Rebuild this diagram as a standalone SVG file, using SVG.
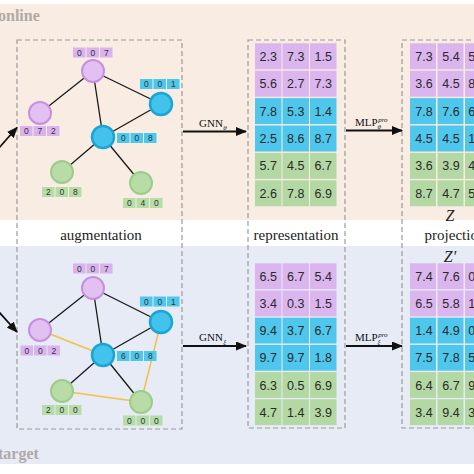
<svg xmlns="http://www.w3.org/2000/svg" width="474" height="474" viewBox="0 0 474 474">
<defs>
<marker id="ah" markerUnits="userSpaceOnUse" markerWidth="11" markerHeight="9" refX="10" refY="4.5" orient="auto">
<path d="M0,0 L11,4.5 L0,9 z" fill="#111"/>
</marker>
<style>
.box{fill:none;stroke:#9a9a9a;stroke-width:1.2;stroke-dasharray:5,3}
.edge{stroke:#1a1a1a;stroke-width:1.3;fill:none}
.yedge{stroke:#f2c244;stroke-width:1.6;fill:none}
.arrow{stroke:#111;stroke-width:1.8;fill:none}
.np{fill:#e2c0f2;stroke:#c690e0;stroke-width:2}
.nb{fill:#43c3ec;stroke:#17a6d6;stroke-width:2.5}
.ng{fill:#b7dca6;stroke:#9ecb8b;stroke-width:2}
.lp{fill:#d9b2ee}
.lb{fill:#4ec7ec}
.lg{fill:#b6dca8}
.ld{font-family:"Liberation Sans",Arial,sans-serif;font-size:8.5px;fill:#333;text-anchor:middle}
.cp{fill:#dab5ee}
.cb{fill:#4fc7ec}
.cg{fill:#b3d8a3}
.cv{font-family:"Liberation Sans",Arial,sans-serif;font-size:12.5px;fill:#2a2a2a;text-anchor:middle}
.cap{font-family:"Liberation Serif","Times New Roman",serif;font-size:15px;fill:#222;text-anchor:middle}
.sec{font-family:"Liberation Serif","Times New Roman",serif;font-size:16px;font-weight:bold;fill:#b0aaa6}
.op{font-family:"Liberation Serif","Times New Roman",serif;font-size:11px;fill:#111}
.sub{font-family:"Liberation Serif","Times New Roman",serif;font-size:7px;fill:#111;font-style:italic}
.zl{font-family:"Liberation Serif","Times New Roman",serif;font-size:16px;fill:#222;font-style:italic;text-anchor:middle}
</style>
</defs>
<rect x="0" y="0" width="474" height="474" fill="#ffffff"/>
<rect x="0" y="4" width="474" height="216" fill="#f9ece2"/>
<rect x="0" y="246" width="474" height="218" fill="#e6ebf6"/>
<text class="sec" x="-2" y="21">online</text>
<text class="sec" x="-2" y="459">target</text>

<g id="boxes">
<rect class="box" x="17" y="40" width="165" height="389"/>
<rect class="box" x="248" y="40" width="97" height="388"/>
<rect class="box" x="402" y="40" width="100" height="388"/>
</g>
<text class="cap" x="101" y="240">augmentation</text>
<text class="cap" x="296" y="240">representation</text>
<text class="cap" x="455" y="240">projection</text>

<g id="connectors">
<line class="edge" x1="93" y1="71" x2="40" y2="113"/>
<line class="edge" x1="93" y1="71" x2="161" y2="104"/>
<line class="edge" x1="93" y1="71" x2="103" y2="137"/>
<line class="edge" x1="103" y1="137" x2="161" y2="104"/>
<line class="edge" x1="103" y1="137" x2="62" y2="172"/>
<line class="edge" x1="103" y1="137" x2="141" y2="183"/>
<line class="edge" x1="93" y1="288" x2="40" y2="330"/>
<line class="edge" x1="93" y1="288" x2="161" y2="322"/>
<line class="edge" x1="93" y1="288" x2="103" y2="355"/>
<line class="edge" x1="103" y1="355" x2="161" y2="322"/>
<line class="edge" x1="103" y1="355" x2="62" y2="391"/>
<line class="edge" x1="103" y1="355" x2="141" y2="402"/>
<line class="yedge" x1="40" y1="330" x2="103" y2="355"/>
<line class="yedge" x1="161" y1="322" x2="141" y2="402"/>
<line class="yedge" x1="62" y1="391" x2="141" y2="402"/>
<line class="arrow" x1="-2" y1="149" x2="17" y2="127.5" marker-end="url(#ah)"/>
<line class="arrow" x1="-2" y1="311" x2="17" y2="332" marker-end="url(#ah)"/>
<line class="arrow" x1="183" y1="131.5" x2="246" y2="131.5" marker-end="url(#ah)"/>
<line class="arrow" x1="183" y1="346" x2="246" y2="346" marker-end="url(#ah)"/>
<line class="arrow" x1="346" y1="130.5" x2="402" y2="130.5" marker-end="url(#ah)"/>
<line class="arrow" x1="346" y1="346" x2="402" y2="346" marker-end="url(#ah)"/>
</g>
<text class="op" x="199" y="127">GNN<tspan class="sub" dx="0.5" dy="2.5">θ</tspan></text>
<text class="op" x="199" y="341">GNN<tspan class="sub" dx="0.5" dy="2.5">ξ</tspan></text>
<text class="op" x="355" y="126">MLP<tspan class="sub" font-style="normal" dx="0.5" dy="-4">pro</tspan><tspan class="sub" dx="-10" dy="7">θ</tspan></text>
<text class="op" x="355" y="341">MLP<tspan class="sub" font-style="normal" dx="0.5" dy="-4">pro</tspan><tspan class="sub" dx="-10" dy="7">ξ</tspan></text>

<g id="online-graph">
<g id="n-top-p"><circle class="np" cx="93" cy="71" r="11"/>
<rect class="lp" x="73" y="47.5" width="12.5" height="10"/><rect class="lp" x="86.5" y="47.5" width="12.5" height="10"/><rect class="lp" x="100" y="47.5" width="12.5" height="10"/>
<text class="ld" x="79.25" y="55.8">0</text><text class="ld" x="92.75" y="55.8">0</text><text class="ld" x="106.25" y="55.8">7</text></g>
<g id="n-top-pl"><circle class="np" cx="40" cy="113" r="11"/>
<rect class="lp" x="20" y="126" width="12.5" height="10"/><rect class="lp" x="33.5" y="126" width="12.5" height="10"/><rect class="lp" x="47" y="126" width="12.5" height="10"/>
<text class="ld" x="26.25" y="134.3">0</text><text class="ld" x="39.75" y="134.3">7</text><text class="ld" x="53.25" y="134.3">2</text></g>
<g id="n-top-br"><circle class="nb" cx="161" cy="104" r="11"/>
<rect class="lb" x="140" y="79" width="12.5" height="10"/><rect class="lb" x="153.5" y="79" width="12.5" height="10"/><rect class="lb" x="167" y="79" width="12.5" height="10"/>
<text class="ld" x="146.25" y="87.3">0</text><text class="ld" x="159.75" y="87.3">0</text><text class="ld" x="173.25" y="87.3">1</text></g>
<g id="n-top-bc"><circle class="nb" cx="103" cy="137" r="11"/>
<rect class="lb" x="117" y="133" width="12.5" height="10"/><rect class="lb" x="130.5" y="133" width="12.5" height="10"/><rect class="lb" x="144" y="133" width="12.5" height="10"/>
<text class="ld" x="123.25" y="141.3">0</text><text class="ld" x="136.75" y="141.3">0</text><text class="ld" x="150.25" y="141.3">8</text></g>
<g id="n-top-gl"><circle class="ng" cx="62" cy="172" r="11"/>
<rect class="lg" x="42" y="187" width="12.5" height="10"/><rect class="lg" x="55.5" y="187" width="12.5" height="10"/><rect class="lg" x="69" y="187" width="12.5" height="10"/>
<text class="ld" x="48.25" y="195.3">2</text><text class="ld" x="61.75" y="195.3">0</text><text class="ld" x="75.25" y="195.3">8</text></g>
<g id="n-top-gr"><circle class="ng" cx="141" cy="183" r="11"/>
<rect class="lg" x="123" y="198" width="12.5" height="10"/><rect class="lg" x="136.5" y="198" width="12.5" height="10"/><rect class="lg" x="150" y="198" width="12.5" height="10"/>
<text class="ld" x="129.25" y="206.3">0</text><text class="ld" x="142.75" y="206.3">4</text><text class="ld" x="156.25" y="206.3">0</text></g>
</g>

<g id="target-graph">
<g id="n-bot-p"><circle class="np" cx="93" cy="288" r="11"/>
<rect class="lp" x="73" y="263.5" width="12.5" height="10"/><rect class="lp" x="86.5" y="263.5" width="12.5" height="10"/><rect class="lp" x="100" y="263.5" width="12.5" height="10"/>
<text class="ld" x="79.25" y="271.8">0</text><text class="ld" x="92.75" y="271.8">0</text><text class="ld" x="106.25" y="271.8">7</text></g>
<g id="n-bot-pl"><circle class="np" cx="40" cy="330" r="11"/>
<rect class="lp" x="20.5" y="345.5" width="12.5" height="10"/><rect class="lp" x="34" y="345.5" width="12.5" height="10"/><rect class="lp" x="47.5" y="345.5" width="12.5" height="10"/>
<text class="ld" x="26.75" y="353.8">0</text><text class="ld" x="40.25" y="353.8">0</text><text class="ld" x="53.75" y="353.8">2</text></g>
<g id="n-bot-br"><circle class="nb" cx="161" cy="322" r="11"/>
<rect class="lb" x="140" y="296.5" width="12.5" height="10"/><rect class="lb" x="153.5" y="296.5" width="12.5" height="10"/><rect class="lb" x="167" y="296.5" width="12.5" height="10"/>
<text class="ld" x="146.25" y="304.8">0</text><text class="ld" x="159.75" y="304.8">0</text><text class="ld" x="173.25" y="304.8">1</text></g>
<g id="n-bot-bc"><circle class="nb" cx="103" cy="355" r="11"/>
<rect class="lb" x="117" y="351" width="12.5" height="10"/><rect class="lb" x="130.5" y="351" width="12.5" height="10"/><rect class="lb" x="144" y="351" width="12.5" height="10"/>
<text class="ld" x="123.25" y="359.3">6</text><text class="ld" x="136.75" y="359.3">0</text><text class="ld" x="150.25" y="359.3">8</text></g>
<g id="n-bot-gl"><circle class="ng" cx="62" cy="391" r="11"/>
<rect class="lg" x="42" y="405" width="12.5" height="10"/><rect class="lg" x="55.5" y="405" width="12.5" height="10"/><rect class="lg" x="69" y="405" width="12.5" height="10"/>
<text class="ld" x="48.25" y="413.3">2</text><text class="ld" x="61.75" y="413.3">0</text><text class="ld" x="75.25" y="413.3">0</text></g>
<g id="n-bot-gr"><circle class="ng" cx="141" cy="402" r="11"/>
<rect class="lg" x="123" y="415.5" width="12.5" height="10"/><rect class="lg" x="136.5" y="415.5" width="12.5" height="10"/><rect class="lg" x="150" y="415.5" width="12.5" height="10"/>
<text class="ld" x="129.25" y="423.8">0</text><text class="ld" x="142.75" y="423.8">0</text><text class="ld" x="156.25" y="423.8">0</text></g>
</g>

<g id="rep-online">
<rect class="cp" x="255" y="43.3" width="26.5" height="26"/><rect class="cp" x="282.5" y="43.3" width="26.5" height="26"/><rect class="cp" x="310" y="43.3" width="26.5" height="26"/>
<rect class="cp" x="255" y="70.7" width="26.5" height="26"/><rect class="cp" x="282.5" y="70.7" width="26.5" height="26"/><rect class="cp" x="310" y="70.7" width="26.5" height="26"/>
<rect class="cb" x="255" y="98.1" width="26.5" height="26"/><rect class="cb" x="282.5" y="98.1" width="26.5" height="26"/><rect class="cb" x="310" y="98.1" width="26.5" height="26"/>
<rect class="cb" x="255" y="125.5" width="26.5" height="26"/><rect class="cb" x="282.5" y="125.5" width="26.5" height="26"/><rect class="cb" x="310" y="125.5" width="26.5" height="26"/>
<rect class="cg" x="255" y="152.9" width="26.5" height="26"/><rect class="cg" x="282.5" y="152.9" width="26.5" height="26"/><rect class="cg" x="310" y="152.9" width="26.5" height="26"/>
<rect class="cg" x="255" y="180.3" width="26.5" height="26"/><rect class="cg" x="282.5" y="180.3" width="26.5" height="26"/><rect class="cg" x="310" y="180.3" width="26.5" height="26"/>
<text class="cv" x="268.25" y="60.8">2.3</text><text class="cv" x="295.75" y="60.8">7.3</text><text class="cv" x="323.25" y="60.8">1.5</text>
<text class="cv" x="268.25" y="88.2">5.6</text><text class="cv" x="295.75" y="88.2">2.7</text><text class="cv" x="323.25" y="88.2">7.3</text>
<text class="cv" x="268.25" y="115.6">7.8</text><text class="cv" x="295.75" y="115.6">5.3</text><text class="cv" x="323.25" y="115.6">1.4</text>
<text class="cv" x="268.25" y="143">2.5</text><text class="cv" x="295.75" y="143">8.6</text><text class="cv" x="323.25" y="143">8.7</text>
<text class="cv" x="268.25" y="170.4">5.7</text><text class="cv" x="295.75" y="170.4">4.5</text><text class="cv" x="323.25" y="170.4">6.7</text>
<text class="cv" x="268.25" y="197.8">2.6</text><text class="cv" x="295.75" y="197.8">7.8</text><text class="cv" x="323.25" y="197.8">6.9</text>
</g>

<g id="rep-target">
<rect class="cp" x="255" y="263.3" width="26.5" height="25.8"/><rect class="cp" x="282.5" y="263.3" width="26.5" height="25.8"/><rect class="cp" x="310" y="263.3" width="26.5" height="25.8"/>
<rect class="cp" x="255" y="290.5" width="26.5" height="25.8"/><rect class="cp" x="282.5" y="290.5" width="26.5" height="25.8"/><rect class="cp" x="310" y="290.5" width="26.5" height="25.8"/>
<rect class="cb" x="255" y="317.7" width="26.5" height="25.8"/><rect class="cb" x="282.5" y="317.7" width="26.5" height="25.8"/><rect class="cb" x="310" y="317.7" width="26.5" height="25.8"/>
<rect class="cb" x="255" y="344.9" width="26.5" height="25.8"/><rect class="cb" x="282.5" y="344.9" width="26.5" height="25.8"/><rect class="cb" x="310" y="344.9" width="26.5" height="25.8"/>
<rect class="cg" x="255" y="372.1" width="26.5" height="25.8"/><rect class="cg" x="282.5" y="372.1" width="26.5" height="25.8"/><rect class="cg" x="310" y="372.1" width="26.5" height="25.8"/>
<rect class="cg" x="255" y="399.3" width="26.5" height="25.8"/><rect class="cg" x="282.5" y="399.3" width="26.5" height="25.8"/><rect class="cg" x="310" y="399.3" width="26.5" height="25.8"/>
<text class="cv" x="268.25" y="280.7">6.5</text><text class="cv" x="295.75" y="280.7">6.7</text><text class="cv" x="323.25" y="280.7">5.4</text>
<text class="cv" x="268.25" y="307.9">3.4</text><text class="cv" x="295.75" y="307.9">0.3</text><text class="cv" x="323.25" y="307.9">1.5</text>
<text class="cv" x="268.25" y="335.1">9.4</text><text class="cv" x="295.75" y="335.1">3.7</text><text class="cv" x="323.25" y="335.1">6.7</text>
<text class="cv" x="268.25" y="362.3">9.7</text><text class="cv" x="295.75" y="362.3">9.7</text><text class="cv" x="323.25" y="362.3">1.8</text>
<text class="cv" x="268.25" y="389.5">6.3</text><text class="cv" x="295.75" y="389.5">0.5</text><text class="cv" x="323.25" y="389.5">6.9</text>
<text class="cv" x="268.25" y="416.7">4.7</text><text class="cv" x="295.75" y="416.7">1.4</text><text class="cv" x="323.25" y="416.7">3.9</text>
</g>

<g id="proj-online">
<rect class="cp" x="410" y="43.3" width="26" height="26"/><rect class="cp" x="437.5" y="43.3" width="26" height="26"/><rect class="cp" x="465" y="43.3" width="26" height="26"/>
<rect class="cp" x="410" y="70.7" width="26" height="26"/><rect class="cp" x="437.5" y="70.7" width="26" height="26"/><rect class="cp" x="465" y="70.7" width="26" height="26"/>
<rect class="cb" x="410" y="98.1" width="26" height="26"/><rect class="cb" x="437.5" y="98.1" width="26" height="26"/><rect class="cb" x="465" y="98.1" width="26" height="26"/>
<rect class="cb" x="410" y="125.5" width="26" height="26"/><rect class="cb" x="437.5" y="125.5" width="26" height="26"/><rect class="cb" x="465" y="125.5" width="26" height="26"/>
<rect class="cg" x="410" y="152.9" width="26" height="26"/><rect class="cg" x="437.5" y="152.9" width="26" height="26"/><rect class="cg" x="465" y="152.9" width="26" height="26"/>
<rect class="cg" x="410" y="180.3" width="26" height="26"/><rect class="cg" x="437.5" y="180.3" width="26" height="26"/><rect class="cg" x="465" y="180.3" width="26" height="26"/>
<text class="cv" x="424" y="60.8">7.3</text><text class="cv" x="451" y="60.8">5.4</text><text class="cv" x="477" y="60.8">5.2</text>
<text class="cv" x="424" y="88.2">3.6</text><text class="cv" x="451" y="88.2">4.5</text><text class="cv" x="477" y="88.2">8.1</text>
<text class="cv" x="424" y="115.6">7.8</text><text class="cv" x="451" y="115.6">7.6</text><text class="cv" x="477" y="115.6">6.3</text>
<text class="cv" x="424" y="143">4.5</text><text class="cv" x="451" y="143">4.5</text><text class="cv" x="477" y="143">1.2</text>
<text class="cv" x="424" y="170.4">3.6</text><text class="cv" x="451" y="170.4">3.9</text><text class="cv" x="477" y="170.4">4.8</text>
<text class="cv" x="424" y="197.8">8.7</text><text class="cv" x="451" y="197.8">4.7</text><text class="cv" x="477" y="197.8">5.6</text>
</g>
<text class="zl" x="450" y="221">Z</text>

<g id="proj-target">
<rect class="cp" x="410" y="263.3" width="26" height="25.8"/><rect class="cp" x="437.5" y="263.3" width="26" height="25.8"/><rect class="cp" x="465" y="263.3" width="26" height="25.8"/>
<rect class="cp" x="410" y="290.5" width="26" height="25.8"/><rect class="cp" x="437.5" y="290.5" width="26" height="25.8"/><rect class="cp" x="465" y="290.5" width="26" height="25.8"/>
<rect class="cb" x="410" y="317.7" width="26" height="25.8"/><rect class="cb" x="437.5" y="317.7" width="26" height="25.8"/><rect class="cb" x="465" y="317.7" width="26" height="25.8"/>
<rect class="cb" x="410" y="344.9" width="26" height="25.8"/><rect class="cb" x="437.5" y="344.9" width="26" height="25.8"/><rect class="cb" x="465" y="344.9" width="26" height="25.8"/>
<rect class="cg" x="410" y="372.1" width="26" height="25.8"/><rect class="cg" x="437.5" y="372.1" width="26" height="25.8"/><rect class="cg" x="465" y="372.1" width="26" height="25.8"/>
<rect class="cg" x="410" y="399.3" width="26" height="25.8"/><rect class="cg" x="437.5" y="399.3" width="26" height="25.8"/><rect class="cg" x="465" y="399.3" width="26" height="25.8"/>
<text class="cv" x="424" y="280.7">7.4</text><text class="cv" x="451" y="280.7">7.6</text><text class="cv" x="477" y="280.7">0.8</text>
<text class="cv" x="424" y="307.9">6.5</text><text class="cv" x="451" y="307.9">5.8</text><text class="cv" x="477" y="307.9">1.3</text>
<text class="cv" x="424" y="335.1">1.4</text><text class="cv" x="451" y="335.1">4.9</text><text class="cv" x="477" y="335.1">0.6</text>
<text class="cv" x="424" y="362.3">7.5</text><text class="cv" x="451" y="362.3">7.8</text><text class="cv" x="477" y="362.3">5.1</text>
<text class="cv" x="424" y="389.5">6.4</text><text class="cv" x="451" y="389.5">6.7</text><text class="cv" x="477" y="389.5">9.2</text>
<text class="cv" x="424" y="416.7">3.4</text><text class="cv" x="451" y="416.7">9.4</text><text class="cv" x="477" y="416.7">3.5</text>
</g>
<text class="zl" x="450" y="261.5">Z′</text>
</svg>
